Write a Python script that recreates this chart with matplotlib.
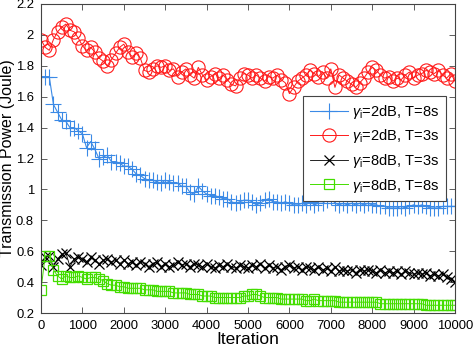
import numpy as np
import matplotlib
matplotlib.use("Agg")
import matplotlib.pyplot as plt

plt.rcParams['font.family'] = ['Liberation Sans', 'DejaVu Sans']
plt.rcParams['mathtext.fontset'] = 'custom'
plt.rcParams['mathtext.rm'] = 'Liberation Sans'
plt.rcParams['mathtext.it'] = 'Liberation Sans:italic'

iters = np.arange(0, 10001, 100)

# gamma_i = 2dB, T = 8s
p_2db_8s = [1.73, 1.73, 1.73, 1.55, 1.50, 1.45, 1.44, 1.40, 1.40, 1.38,
            1.36, 1.27, 1.31, 1.26, 1.20, 1.21, 1.22, 1.18, 1.18, 1.17,
            1.15, 1.15, 1.13, 1.10, 1.09, 1.07, 1.06, 1.06, 1.05, 1.04,
            1.06, 1.05, 1.04, 1.04, 1.02, 1.02, 0.98, 0.97, 1.02, 0.99,
            0.97, 0.96, 0.96, 0.95, 0.94, 0.94, 0.92, 0.91, 0.92, 0.93,
            0.93, 0.92, 0.90, 0.91, 0.93, 0.94, 0.92, 0.92, 0.91, 0.92,
            0.91, 0.90, 0.90, 0.91, 0.90, 0.92, 0.90, 0.91, 0.91, 0.93,
            0.95, 0.91, 0.90, 0.91, 0.90, 0.91, 0.90, 0.91, 0.90, 0.91,
            0.90, 0.90, 0.89, 0.89, 0.88, 0.88, 0.88, 0.89, 0.88, 0.89,
            0.90, 0.89, 0.90, 0.89, 0.88, 0.88, 0.88, 0.89, 0.89, 0.89,
            0.89]

# gamma_i = 2dB, T = 3s
p_2db_3s = [1.97, 1.92, 1.90, 1.97, 2.02, 2.05, 2.07, 2.03, 2.02, 1.98,
            1.93, 1.90, 1.92, 1.89, 1.85, 1.83, 1.80, 1.84, 1.88, 1.92,
            1.94, 1.89, 1.86, 1.88, 1.85, 1.77, 1.76, 1.78, 1.80, 1.79,
            1.80, 1.77, 1.78, 1.73, 1.76, 1.78, 1.74, 1.72, 1.79, 1.74,
            1.71, 1.73, 1.75, 1.72, 1.74, 1.71, 1.68, 1.67, 1.72, 1.75,
            1.74, 1.72, 1.74, 1.72, 1.70, 1.73, 1.72, 1.74, 1.71, 1.69,
            1.62, 1.66, 1.70, 1.72, 1.74, 1.77, 1.75, 1.73, 1.76, 1.72,
            1.78, 1.66, 1.74, 1.72, 1.70, 1.68, 1.66, 1.69, 1.72, 1.76,
            1.79, 1.77, 1.74, 1.72, 1.73, 1.70, 1.72, 1.71, 1.74, 1.76,
            1.72, 1.74, 1.75, 1.77, 1.76, 1.75, 1.77, 1.74, 1.72, 1.75,
            1.70]

# gamma_i = 8dB, T = 3s
p_8db_3s = [0.51, 0.56, 0.57, 0.50, 0.55, 0.58, 0.59, 0.50, 0.55, 0.56,
            0.55, 0.53, 0.56, 0.54, 0.52, 0.54, 0.55, 0.53, 0.54, 0.52,
            0.54, 0.52, 0.53, 0.51, 0.53, 0.52, 0.50, 0.52, 0.53, 0.50,
            0.52, 0.50, 0.51, 0.53, 0.51, 0.52, 0.50, 0.52, 0.51, 0.50,
            0.52, 0.50, 0.49, 0.51, 0.50, 0.52, 0.50, 0.49, 0.51, 0.50,
            0.49, 0.51, 0.50, 0.52, 0.49, 0.51, 0.49, 0.50, 0.48, 0.50,
            0.51, 0.49, 0.50, 0.48, 0.50, 0.49, 0.48, 0.50, 0.48, 0.49,
            0.47, 0.50, 0.47, 0.48, 0.47, 0.48, 0.46, 0.48, 0.47, 0.48,
            0.47, 0.46, 0.48, 0.46, 0.47, 0.46, 0.47, 0.45, 0.47, 0.46,
            0.45, 0.46, 0.45, 0.46, 0.44, 0.45, 0.44, 0.45, 0.43, 0.42,
            0.40]

# gamma_i = 8dB, T = 8s
p_8db_8s = [0.35, 0.57, 0.57, 0.48, 0.44, 0.42, 0.44, 0.43, 0.43, 0.44,
            0.43, 0.42, 0.43, 0.43, 0.42, 0.41, 0.39, 0.38, 0.38, 0.37,
            0.37, 0.36, 0.36, 0.36, 0.36, 0.35, 0.35, 0.35, 0.34, 0.34,
            0.34, 0.34, 0.33, 0.33, 0.33, 0.33, 0.32, 0.32, 0.32, 0.31,
            0.31, 0.31, 0.30, 0.30, 0.30, 0.30, 0.30, 0.30, 0.30, 0.31,
            0.31, 0.32, 0.32, 0.31, 0.30, 0.30, 0.30, 0.30, 0.29, 0.29,
            0.29, 0.29, 0.29, 0.29, 0.28, 0.28, 0.29, 0.28, 0.28, 0.28,
            0.28, 0.28, 0.27, 0.27, 0.27, 0.27, 0.27, 0.27, 0.27, 0.27,
            0.27, 0.27, 0.26, 0.26, 0.26, 0.26, 0.26, 0.26, 0.26, 0.26,
            0.26, 0.26, 0.26, 0.25, 0.25, 0.25, 0.25, 0.25, 0.25, 0.25,
            0.25]

labels = [r'$\gamma_{\rm i}$=2dB, T=8s', r'$\gamma_{\rm i}$=2dB, T=3s',
          r'$\gamma_{\rm i}$=8dB, T=3s', r'$\gamma_{\rm i}$=8dB, T=8s']

fig = plt.figure(figsize=(4.74, 3.51), dpi=100)
ax = fig.add_axes([41/474, 1-313/351, 414/474, 309/351])

ax.plot(iters, p_2db_8s, '-', color='#3b8ae6', marker='+', ms=11, mew=0.8, lw=0.8, label=labels[0])
ax.plot(iters, p_2db_3s, '-', color='#ff1a1a', marker='o', ms=9.5, mfc='none', mec='#ff1a1a', mew=0.8, lw=0.7, label=labels[1])
ax.plot(iters, p_8db_3s, '-', color='black', marker='x', ms=7.5, mew=0.9, lw=0.6, label=labels[2])
ax.plot(iters, p_8db_8s, '-', color='#44dd00', marker='s', ms=6.5, mfc='none', mec='#44dd00', mew=0.9, lw=0.7, label=labels[3])

ax.set_xlim(0, 10000)
ax.set_ylim(0.2, 2.2)
ax.set_xticks(np.arange(0, 10001, 1000))
ax.set_yticks(np.arange(0.2, 2.21, 0.2))
ax.set_yticklabels(['0.2', '0.4', '0.6', '0.8', '1', '1.2', '1.4', '1.6', '1.8', '2', '2.2'])
ax.tick_params(direction='in', top=True, right=True, labelsize=9.4, length=4, width=0.6,
               color='#444444', pad=5)
for s in ax.spines.values():
    s.set_linewidth(0.8)
    s.set_color('#444444')

ax.set_xlabel('Iteration', fontsize=12.5, labelpad=0)
ax.set_ylabel('Transmission Power (Joule)', fontsize=11.5, labelpad=1)

leg = ax.legend(loc='upper right', bbox_to_anchor=(0.995, 0.725), fontsize=10.5,
                fancybox=False, edgecolor='#444444', framealpha=1, handlelength=2.6,
                labelspacing=0.45, borderpad=0.45, handletextpad=0.3)
leg.get_frame().set_linewidth(0.8)

fig.savefig('out.png', dpi=100)
